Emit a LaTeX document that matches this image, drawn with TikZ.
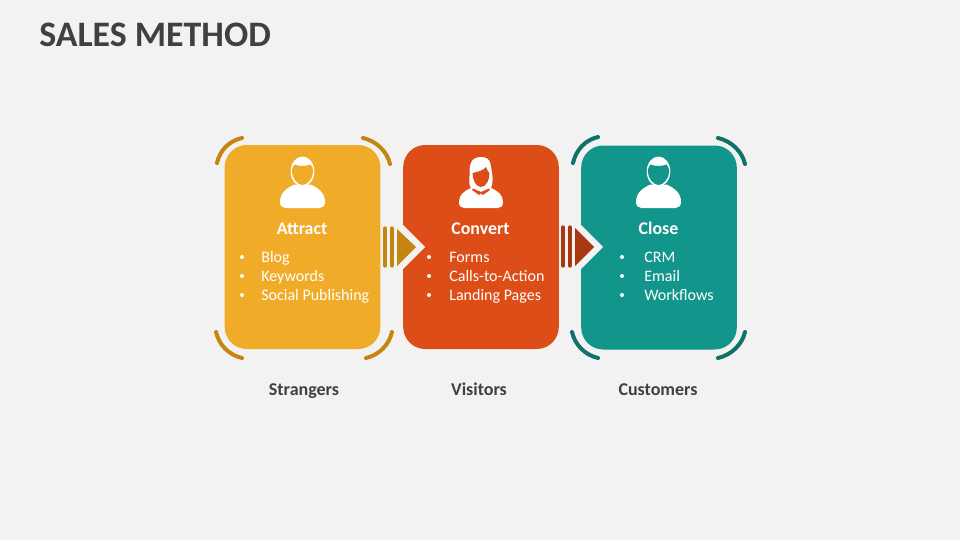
\documentclass[tikz,border=0pt]{standalone}
\usepackage{fontspec}
\setmainfont{Carlito}
\usepackage{xcolor}
\usetikzlibrary{positioning}
\definecolor{pagegray}{RGB}{242,242,242}
\definecolor{inkgray}{RGB}{64,64,64}
\definecolor{amber}{RGB}{240,172,41}
\definecolor{darkamber}{RGB}{196,134,15}
\definecolor{rust}{RGB}{220,77,24}
\definecolor{darkrust}{RGB}{168,56,16}
\definecolor{teal}{RGB}{18,149,139}
\definecolor{darkteal}{RGB}{15,115,108}
\tikzset{
  card/.style={rectangle,rounded corners=5.5mm,minimum width=38.9mm,minimum height=51mm,inner sep=0pt},
  cornerarc/.style={line width=1mm,line cap=round},
  gapbar/.style={line width=1.1mm,line cap=round},
  heading/.style={font=\fontsize{12.7}{15}\selectfont\bfseries,text=white,inner sep=0pt,anchor=base},
  itemtext/.style={font=\fontsize{11.4}{14}\selectfont,text=white,anchor=base west,inner sep=0pt},
  itemdot/.style={circle,fill=white,inner sep=0pt,minimum size=1mm},
  stage/.style={font=\fontsize{12.8}{15}\selectfont\bfseries,text=inkgray,inner sep=0pt,anchor=base}
}
\newcommand{\manicon}[2]{%
  \begin{scope}[shift={(#1,0)}]
    \fill[white] (-22.5,202) .. controls (-22.5,193) and (-16,188) .. (-8,184.5)
      -- (8,184.5) .. controls (16,188) and (22.5,193) .. (22.5,202)
      .. controls (22.5,206) and (20,208) .. (17,208) -- (-17,208)
      .. controls (-20,208) and (-22.5,206) .. (-22.5,202) -- cycle;
    \fill[white] (0,171.5) ellipse[x radius=11.8,y radius=15];
    \fill[#2] (-10.6,172) .. controls (-10.6,168) and (-9.5,166) .. (-8,164.5)
      .. controls (-3,166.5) and (3,166.5) .. (8,164.5)
      .. controls (9.5,166) and (10.6,168) .. (10.6,172)
      .. controls (10.6,178) and (5,185) .. (0,185)
      .. controls (-5,185) and (-10.6,178) .. (-10.6,172) -- cycle;
  \end{scope}}
\begin{document}
\begin{tikzpicture}[x=0.25mm,y=-0.25mm]
\useasboundingbox (0,0) rectangle (960,540);
\fill[pagegray] (0,0) rectangle (960,540);

\node[anchor=base west,inner sep=0pt,text=inkgray,font=\fontsize{25.5}{30}\selectfont\bfseries] (title) at (39,46) {SALES METHOD};

% cards
\node[card,fill=amber] (attractcard) at (302.5,247) {};
\node[card,fill=rust] (convertcard) at (481,247) {};
\node[card,fill=teal] (closecard) at (659,247.5) {};

% corner arcs
\draw[cornerarc,draw=darkamber] (217,163) .. controls (220,150) and (229,141) .. (242,138);
\draw[cornerarc,draw=darkamber] (363,138) .. controls (376,141) and (387,151) .. (390,164);
\draw[cornerarc,draw=darkamber] (216,332) .. controls (219,345) and (229,355) .. (242,358);
\draw[cornerarc,draw=darkamber] (366,358) .. controls (379,355) and (389,345) .. (392,332);

\draw[cornerarc,draw=darkteal] (573,163) .. controls (576,150) and (585,140) .. (598,137);
\draw[cornerarc,draw=darkteal] (718,138) .. controls (731,141) and (742,151) .. (745,164);
\draw[cornerarc,draw=darkteal] (572,332) .. controls (575,345) and (585,355) .. (598,358);
\draw[cornerarc,draw=darkteal] (718,358) .. controls (731,355) and (742,345) .. (745,332);

% arrows between cards
\fill[pagegray] (396,225) -- (403,225) -- (425,247) -- (403,269) -- (396,269) -- cycle;
\draw[gapbar,draw=darkamber] (385,228.5) -- (385,265.5);
\draw[gapbar,draw=darkamber] (392,228.5) -- (392,265.5);
\fill[darkamber] (397,229) -- (416,247) -- (397,266) -- cycle;

\fill[pagegray] (574,225) -- (581,225) -- (603,247) -- (581,269) -- (574,269) -- cycle;
\draw[gapbar,draw=darkrust] (563,227.5) -- (563,265.5);
\draw[gapbar,draw=darkrust] (570,227.5) -- (570,265.5);
\fill[darkrust] (575,228) -- (594,247) -- (575,266) -- cycle;

% people
\manicon{302.5}{amber}
\manicon{658.5}{teal}
\fill[white] (459,202) .. controls (459,195) and (464,191) .. (471,188)
  .. controls (469,185) and (469,181) .. (469.5,176)
  .. controls (469.5,172) and (469.5,168) .. (470.5,164)
  .. controls (472,159) and (476,157) .. (481,157)
  .. controls (486,157) and (489.5,159) .. (490.5,164)
  .. controls (491.5,169) and (492,173) .. (492.5,177)
  .. controls (493,181) and (492,185) .. (491,188)
  .. controls (498,191) and (503,195) .. (503,202)
  .. controls (503,206) and (501,208) .. (498,208) -- (464,208)
  .. controls (461,208) and (459,206) .. (459,202) -- cycle;
\fill[rust] (472.5,173) .. controls (478,172) and (484,170) .. (486,167)
  .. controls (487,170) and (488.5,172) .. (489.5,173.5)
  .. controls (489.5,180) and (486,187) .. (481,187)
  .. controls (476,187) and (472.5,180) .. (472.5,173) -- cycle;
\fill[rust] (473,188.5) -- (481,192) -- (489,188.5) -- (490,190) -- (483,195) -- (481,193.5) -- (479,195) -- (472,190) -- cycle;

% headings
\node[heading] (attract) at (302,234) {Attract};
\node[heading] (convert) at (480.5,234) {Convert};
\node[heading] (close) at (658.5,234) {Close};

% lists
\foreach \name/\label/\ypos in {blog/Blog/262,keywords/Keywords/281,social/Social Publishing/300}{
  \node[itemdot] (\name dot) at (242,\ypos-5) {};
  \node[itemtext] (\name) at (261,\ypos) {\label};
}
\foreach \name/\label/\ypos in {forms/Forms/262,calls/Calls-to-Action/281,landing/Landing Pages/300}{
  \node[itemdot] (\name dot) at (429,\ypos-5) {};
  \node[itemtext] (\name) at (449,\ypos) {\label};
}
\foreach \name/\label/\ypos in {crm/CRM/262,email/Email/281,workflows/Workflows/300}{
  \node[itemdot] (\name dot) at (622,\ypos-5) {};
  \node[itemtext] (\name) at (644,\ypos) {\label};
}

% stages
\node[stage] (strangers) at (304,395) {Strangers};
\node[stage] (visitors) at (479,395) {Visitors};
\node[stage] (customers) at (658,395) {Customers};
\end{tikzpicture}
\end{document}
